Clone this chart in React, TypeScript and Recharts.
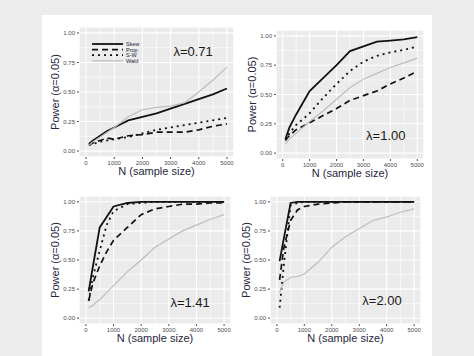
import React from 'react';
import { LineChart, Line, XAxis, YAxis, CartesianGrid, Legend, ReferenceDot } from 'recharts';

// sample sizes shared by all four panels
const N = [100, 250, 500, 750, 1000, 1500, 2000, 2500, 3000, 3500, 4000, 4500, 5000];
const SERIES = ['Skew', 'Prop', 'S-W', 'Wald'];

// lambda = 0.71
const skew071 = [0.06, 0.09, 0.13, 0.17, 0.2, 0.26, 0.29, 0.32, 0.36, 0.4, 0.44, 0.48, 0.53];
const prop071 = [0.05, 0.07, 0.09, 0.11, 0.1, 0.13, 0.14, 0.16, 0.16, 0.16, 0.18, 0.21, 0.23];
const sw071 = [0.05, 0.06, 0.08, 0.09, 0.1, 0.12, 0.15, 0.18, 0.2, 0.22, 0.24, 0.26, 0.28];
const wald071 = [0.05, 0.08, 0.12, 0.16, 0.2, 0.29, 0.35, 0.37, 0.38, 0.41, 0.5, 0.6, 0.71];

// lambda = 1.00
const skew100 = [0.12, 0.22, 0.33, 0.43, 0.53, 0.64, 0.75, 0.87, 0.91, 0.95, 0.96, 0.97, 0.99];
const prop100 = [0.11, 0.15, 0.2, 0.23, 0.26, 0.32, 0.38, 0.45, 0.49, 0.53, 0.59, 0.64, 0.7];
const sw100 = [0.11, 0.17, 0.24, 0.29, 0.34, 0.47, 0.59, 0.7, 0.78, 0.83, 0.86, 0.88, 0.91];
const wald100 = [0.08, 0.12, 0.17, 0.22, 0.27, 0.36, 0.46, 0.56, 0.63, 0.68, 0.73, 0.77, 0.81];

// lambda = 1.41
const skew141 = [0.23, 0.44, 0.78, 0.87, 0.96, 0.99, 1, 1, 1, 1, 1, 1, 1];
const prop141 = [0.15, 0.3, 0.45, 0.57, 0.67, 0.78, 0.89, 0.94, 0.96, 0.98, 0.98, 0.99, 0.99];
const sw141 = [0.15, 0.35, 0.58, 0.8, 0.92, 0.98, 0.99, 1, 1, 1, 1, 1, 1];
const wald141 = [0.09, 0.11, 0.16, 0.22, 0.28, 0.4, 0.5, 0.61, 0.68, 0.75, 0.8, 0.85, 0.89];

// lambda = 2.00
const skew200 = [0.49, 0.68, 0.99, 1, 1, 1, 1, 1, 1, 1, 1, 1, 1];
const prop200 = [0.33, 0.6, 0.84, 0.93, 0.96, 0.98, 0.99, 1, 1, 1, 1, 1, 1];
const sw200 = [0.09, 0.45, 0.97, 0.99, 1, 1, 1, 1, 1, 1, 1, 1, 1];
const wald200 = [0.22, 0.31, 0.35, 0.36, 0.38, 0.48, 0.61, 0.7, 0.77, 0.84, 0.87, 0.91, 0.94];

const X_TICKS = [0, 1000, 2000, 3000, 4000, 5000];
const X_MINOR = [500, 1500, 2500, 3500, 4500];
const Y_TICKS = [0, 0.25, 0.5, 0.75, 1];
const Y_MINOR = [0.125, 0.375, 0.625, 0.875];
const X_DOMAIN: [number, number] = [-250, 5250];
const Y_DOMAIN: [number, number] = [-0.05, 1.05];

const FONT = '"Liberation Sans", Arial, sans-serif';
const TITLE_COLOR = '#262640';
const TICK_COLOR = '#4d4d4d';

const buildRows = (skew: number[], prop: number[], sw: number[], wald: number[]) =>
  N.map((n, i) => ({ n, Skew: skew[i], Prop: prop[i], 'S-W': sw[i], Wald: wald[i] }));

// legend in the style of ggplot: long line key, tiny label, kept in series order
const LegendBox = (props: any) => {
  const payload = [...(props.payload || [])].sort(
    (a: any, b: any) => SERIES.indexOf(a.value) - SERIES.indexOf(b.value)
  );
  return (
    <svg width={48} height={24} style={{ display: 'block', overflow: 'visible' }}>
      {payload.map((p: any, i: number) => {
        const y = 3 + i * 5.6;
        return (
          <g key={p.value}>
            <line
              x1={0}
              x2={31}
              y1={y}
              y2={y}
              stroke={p.color}
              strokeWidth={p.payload?.strokeWidth ?? 1.5}
              strokeDasharray={p.payload?.strokeDasharray}
            />
            <text x={34} y={y + 2} fontSize={5.5} fill={TITLE_COLOR} fontFamily={FONT}>
              {p.value}
            </text>
          </g>
        );
      })}
    </svg>
  );
};

interface PanelProps {
  rows: any[];
  left: number;
  top: number;
  width: number;
  height: number;
  lambda: string;
  lambdaX: number;
  lambdaY: number;
  legend?: boolean;
}

const Panel: React.FC<PanelProps> = ({ rows, left, top, width, height, lambda, lambdaX, lambdaY, legend }) => {
  const yw = 30;
  const xh = 18;
  const margin = {
    left: left - yw,
    top,
    right: 474 - (left + width),
    bottom: 356 - (top + height) - xh,
  };
  const tickStyle = { fontSize: 6, fill: TICK_COLOR, fontFamily: FONT };
  return (
    <div style={{ position: 'absolute', left: 0, top: 0 }}>
      <LineChart width={474} height={356} data={rows} margin={margin}>
        <XAxis xAxisId="minor" type="number" dataKey="n" domain={X_DOMAIN} ticks={X_MINOR} allowDataOverflow hide />
        <YAxis yAxisId="minor" type="number" domain={Y_DOMAIN} ticks={Y_MINOR} allowDataOverflow hide width={yw} />
        <CartesianGrid xAxisId="minor" yAxisId="minor" fill="#ebebeb" stroke="#ffffff" strokeWidth={0.6} />
        <CartesianGrid stroke="#ffffff" strokeWidth={1.1} />
        <XAxis
          type="number"
          dataKey="n"
          domain={X_DOMAIN}
          ticks={X_TICKS}
          allowDataOverflow
          height={xh}
          axisLine={false}
          tickSize={2}
          tickMargin={2}
          tickLine={{ stroke: TICK_COLOR }}
          tick={tickStyle}
          interval={0}
          label={{ value: 'N (sample size)', position: 'insideBottom', offset: 0, fontSize: 11, fill: TITLE_COLOR, fontFamily: FONT }}
        />
        <YAxis
          type="number"
          domain={Y_DOMAIN}
          ticks={Y_TICKS}
          allowDataOverflow
          width={yw}
          axisLine={false}
          tickSize={2}
          tickMargin={2}
          tickLine={{ stroke: TICK_COLOR }}
          tick={tickStyle}
          interval={0}
          tickFormatter={(v: number) => v.toFixed(2)}
          label={{
            value: 'Power (α=0.05)',
            angle: -90,
            position: 'insideLeft',
            offset: 6,
            fontSize: 11,
            fill: TITLE_COLOR,
            fontFamily: FONT,
            style: { textAnchor: 'middle' },
          }}
        />
        {legend && (
          <Legend
            layout="vertical"
            align="center"
            verticalAlign="middle"
            content={LegendBox}
            wrapperStyle={{ position: 'absolute', left: 92, top: 41, width: 50, height: 24 }}
          />
        )}
        <Line dataKey="Skew" name="Skew" stroke="#111111" strokeWidth={1.8} dot={false} isAnimationActive={false} />
        <Line dataKey="Prop" name="Prop" stroke="#111111" strokeWidth={1.7} strokeDasharray="6 4" dot={false} isAnimationActive={false} />
        <Line dataKey="S-W" name="S-W" stroke="#111111" strokeWidth={1.8} strokeDasharray="2 4" dot={false} isAnimationActive={false} />
        <Line dataKey="Wald" name="Wald" stroke="#bdbdbd" strokeWidth={1.2} dot={false} isAnimationActive={false} />
        <ReferenceDot
          x={lambdaX}
          y={lambdaY}
          r={0}
          stroke="none"
          fill="none"
          label={{ value: lambda, position: 'center', fontSize: 13, fill: '#1a1a1a', fontFamily: FONT }}
        />
      </LineChart>
    </div>
  );
};

export default function App() {
  return (
    <div style={{ position: 'absolute', left: 0, top: 0, width: 474, height: 356, background: '#ececec', overflow: 'hidden' }}>
      <div style={{ position: 'absolute', left: 42, top: 15, width: 390, height: 341, background: '#ffffff' }} />
      <Panel rows={buildRows(skew071, prop071, sw071, wald071)} left={79} top={27} width={155} height={130} lambda="λ=0.71" lambdaX={3800} lambdaY={0.84} legend />
      <Panel rows={buildRows(skew100, prop100, sw100, wald100)} left={276} top={30} width={148} height={129} lambda="λ=1.00" lambdaX={3830} lambdaY={0.155} />
      <Panel rows={buildRows(skew141, prop141, sw141, wald141)} left={79} top={196} width={152} height={128} lambda="λ=1.41" lambdaX={3770} lambdaY={0.14} />
      <Panel rows={buildRows(skew200, prop200, sw200, wald200)} left={270} top={196} width={151} height={128} lambda="λ=2.00" lambdaX={3830} lambdaY={0.155} />
    </div>
  );
}
